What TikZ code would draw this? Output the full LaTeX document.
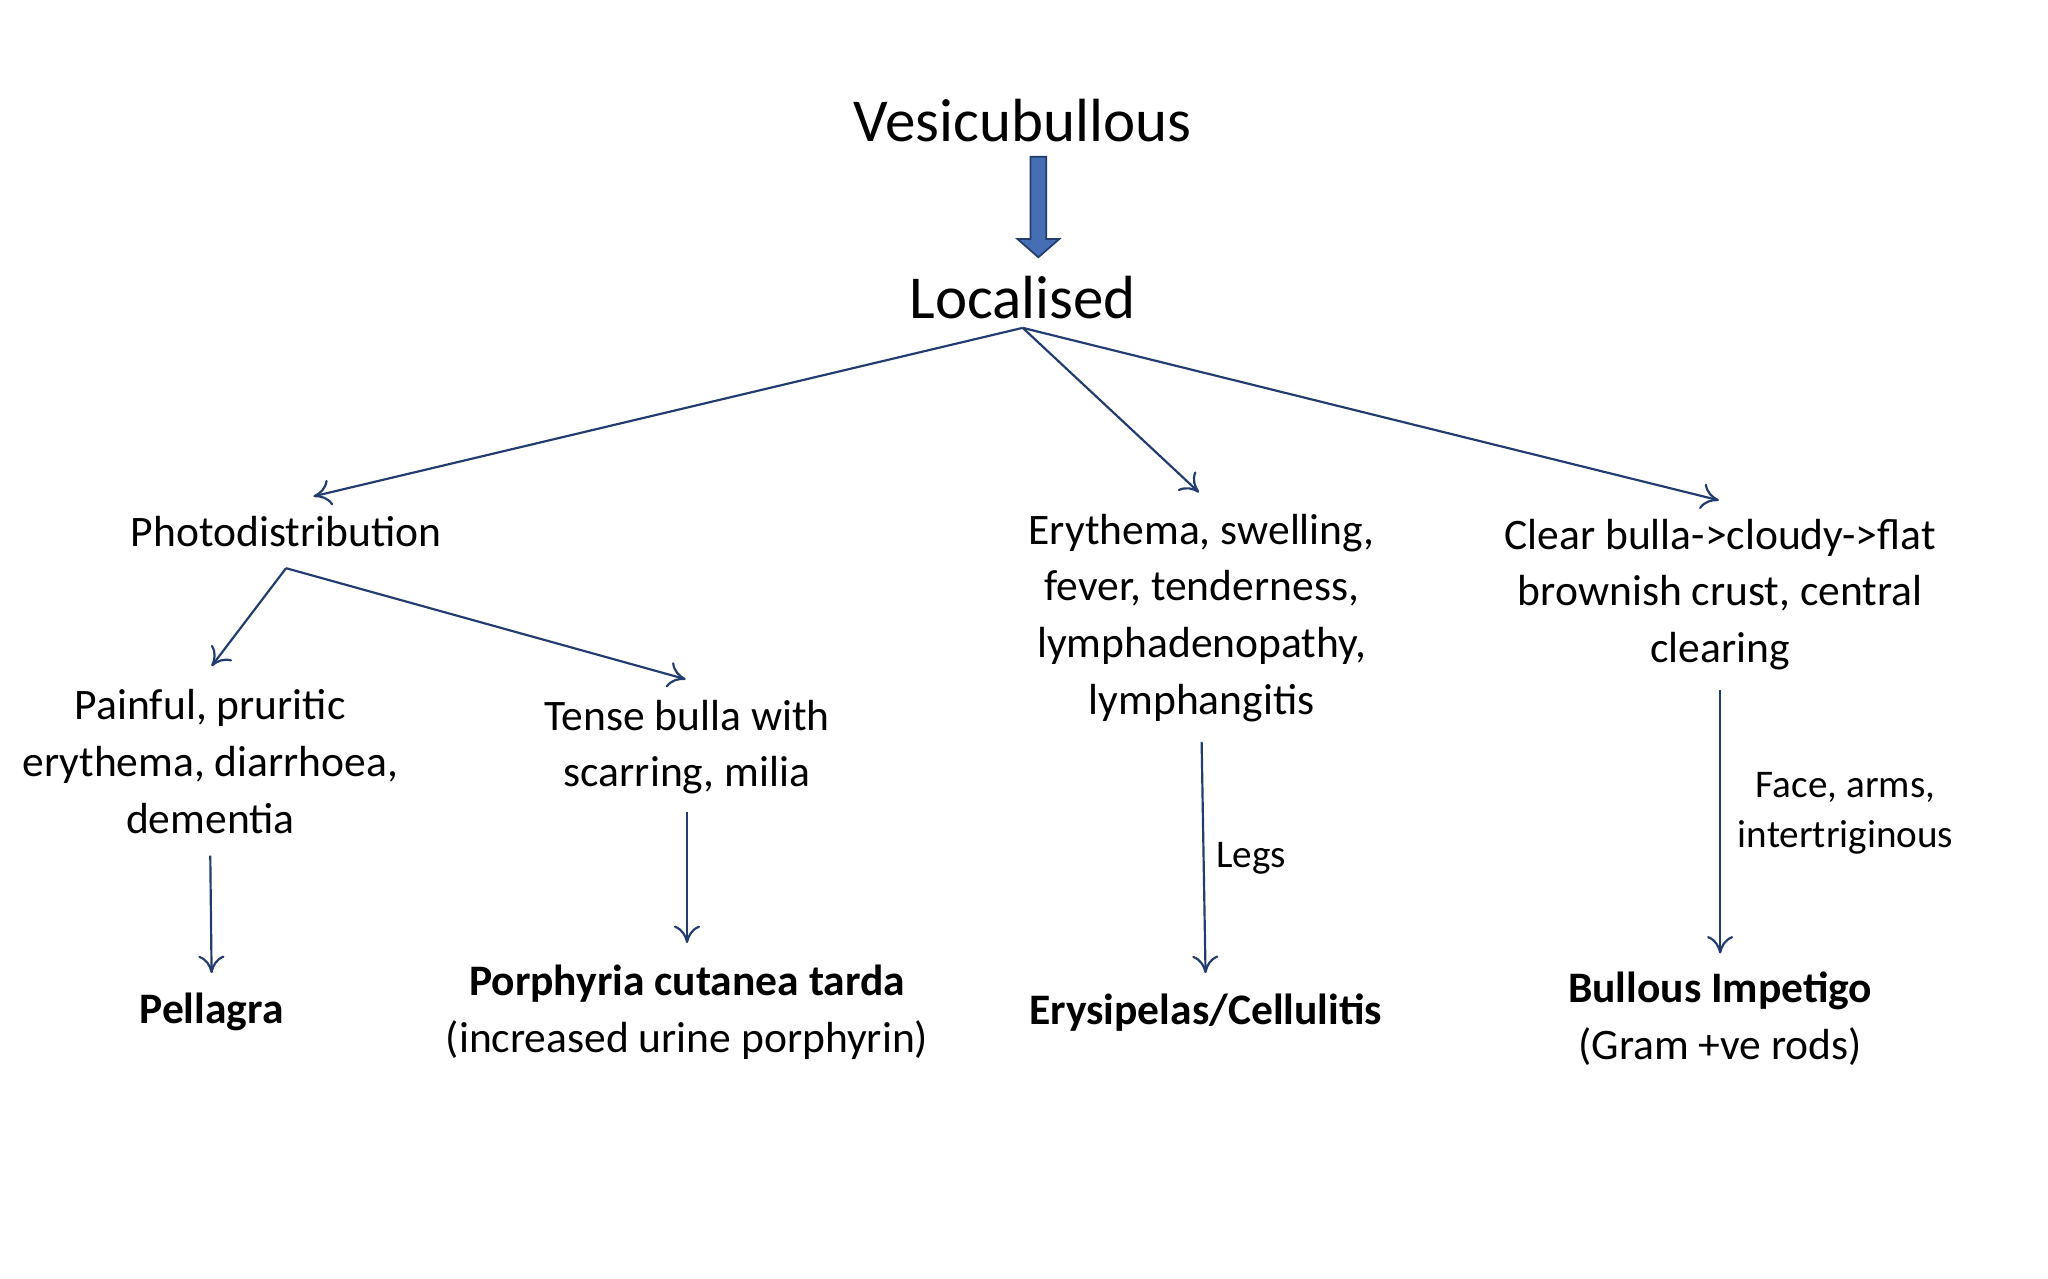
\documentclass[tikz,border=0pt]{standalone}
\usepackage{fontspec}
\setmainfont{Carlito}
\usetikzlibrary{arrows.meta}
\definecolor{ln}{RGB}{35,60,110}
\definecolor{ab}{RGB}{70,110,180}
\begin{document}
\begin{tikzpicture}[x=0.3pt,y=-0.3pt,
  txt/.style={align=center,font=\fontsize{10}{13}\selectfont,inner sep=0pt},
  big/.style={font=\fontsize{14}{16}\selectfont,inner sep=0pt},
  lab/.style={align=center,font=\fontsize{9}{11.5}\selectfont,inner sep=0pt},
  arr/.style={draw=ln,line width=0.5pt,-{To[length=4pt,width=6pt]}}]
\useasboundingbox (0,0) rectangle (1568,979);
\node[big] (v) at (783,92) {Vesicubullous};
\node[big] (l) at (783,228) {Localised};
\fill[ab,draw=ln,line width=0.4pt] (789,120) -- (801,120) -- (801,183) -- (811,183) -- (795,197) -- (779,183) -- (789,183) -- cycle;
\coordinate (ls) at (783,251);
\coordinate (p1) at (240,380);
\coordinate (p2) at (918,377);
\coordinate (p3) at (1316,383);
\draw[arr] (ls) -- (p1);
\draw[arr] (ls) -- (p2);
\draw[arr] (ls) -- (p3);
\node[txt] (ph) at (219,407) {Photodistribution};
\coordinate (phs) at (219,435);
\coordinate (q1) at (162,510);
\coordinate (q2) at (525,520);
\draw[arr] (phs) -- (q1);
\draw[arr] (phs) -- (q2);
\node[txt] (pa) at (161,583) {Painful, pruritic\\erythema, diarrhoea,\\dementia};
\node[txt] (te) at (526,572) {Tense bulla with\\scarring, milia};
\node[txt] (er) at (920,473) {Erythema, swelling,\\fever, tenderness,\\lymphadenopathy,\\lymphangitis};
\node[txt] (cl) at (1317,455) {Clear bulla->cloudy->flat\\brownish crust, central\\clearing};
\node[txt,font=\fontsize{10}{13}\selectfont\bfseries] (pe) at (162,775) {Pellagra};
\node[txt] (po) at (526,775) {\textbf{Porphyria cutanea tarda}\\(increased urine porphyrin)};
\node[txt,font=\fontsize{10}{13}\selectfont\bfseries] (es) at (923,775) {Erysipelas/Cellulitis};
\node[txt] (bi) at (1317,780) {\textbf{Bullous Impetigo}\\(Gram +ve rods)};
\coordinate (a1) at (161,655); \coordinate (b1) at (162,745);
\coordinate (a2) at (526,622); \coordinate (b2) at (526,722);
\coordinate (a3) at (920,568); \coordinate (b3) at (923,745);
\coordinate (a4) at (1317,528); \coordinate (b4) at (1317,730);
\draw[arr] (a1) -- (b1);
\draw[arr] (a2) -- (b2);
\draw[arr] (a3) -- (b3);
\draw[arr] (a4) -- (b4);
\node[lab] (lg) at (958,657) {Legs};
\node[lab] (fa) at (1413,623) {Face, arms,\\intertriginous};
\end{tikzpicture}
\end{document}
